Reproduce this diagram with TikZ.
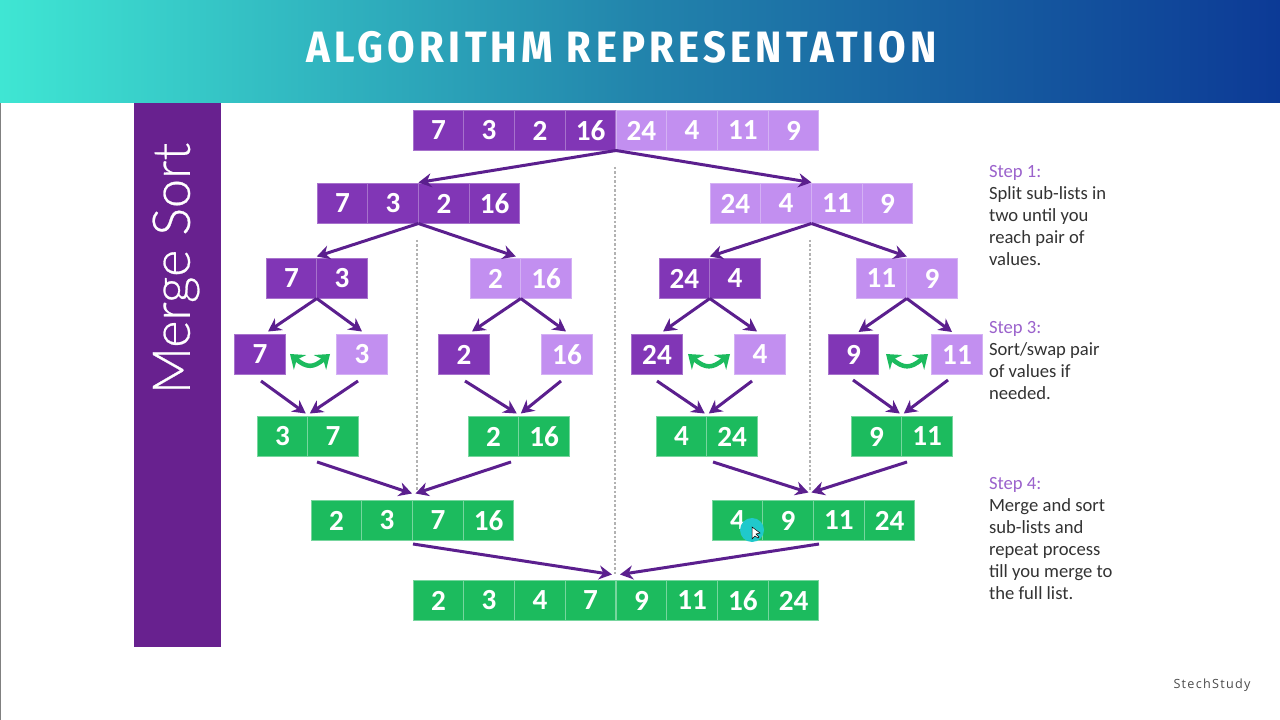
\documentclass[tikz,border=0pt]{standalone}
\usepackage{fontspec}
\usetikzlibrary{arrows.meta}
\setmainfont{Carlito}
\newfontfamily\titlefont[LetterSpace=10]{Fira Sans Condensed}
\newfontfamily\sidefont[FakeBold=0.5]{Lato Light}
\newfontfamily\markfont[LetterSpace=10]{Open Sans}
\definecolor{headleft}{HTML}{3FE6D3}
\definecolor{headmid}{HTML}{2284AC}
\definecolor{headright}{HTML}{0C3A96}
\definecolor{sidebar}{HTML}{68218F}
\definecolor{darkcell}{HTML}{8136B6}
\definecolor{lightcell}{HTML}{C28FF0}
\definecolor{greencell}{HTML}{1CBB5E}
\definecolor{flowline}{HTML}{5B1F8E}
\definecolor{steptitle}{HTML}{9B62CC}
\definecolor{pointer}{HTML}{20C9CC}
\tikzset{
	cell/.style={inner sep=0,outer sep=0,minimum width=0.5075cm,minimum height=0.4cm,yshift=-0.005cm,text=white,font=\fontsize{8.3}{10}\selectfont\bfseries},
	darkbox/.style={cell,fill=darkcell,draw=darkcell!70!white,line width=0.1mm},
	lightbox/.style={cell,fill=lightcell,draw=lightcell!70!white,line width=0.1mm},
	greenbox/.style={cell,fill=greencell,draw=greencell!60!white,line width=0.1mm},
	flow/.style={draw=flowline,line width=0.3mm,-{Stealth[length=1.3mm,width=1.4mm]}},
	swaparrow/.style={draw=greencell,line width=0.45mm,{Stealth[length=1.3mm,width=1.9mm]}-{Stealth[length=1.3mm,width=1.9mm]}},
	split/.style={draw=gray!60,line width=0.15mm,dash pattern=on 0.25mm off 0.2mm},
	steptext/.style={anchor=north west,inner sep=0,outer sep=0,align=left,text=black!80,font=\fontsize{5.3}{6.3}\selectfont},
}
\begin{document}
\begin{tikzpicture}
	\useasboundingbox (0,0) rectangle (12.8,-7.2);
	\fill[white] (0,0) rectangle (12.8,-7.2);
	\draw[black!50,line width=0.1mm] (0.005,-1.03) -- (0.005,-7.2);
	% header
	\shade[left color=headleft,right color=headright,middle color=headmid] (0,0) rectangle (12.8,-1.03);
	\node[text=white,inner sep=0,font=\titlefont\fontsize{12.5}{14}\selectfont\bfseries] (title) at (6.215,-0.47) {ALGORITHM REPRESENTATION};
	% side bar
	\fill[sidebar] (1.34,-1.03) rectangle (2.21,-6.47);
	\node[rotate=90,text=white,inner sep=0,font=\sidefont\fontsize{14.8}{16}\selectfont] (merge) at (1.76,-2.685) {Merge Sort};
	% dotted splits
	\draw[split] (6.15,-1.67) -- (6.15,-5.75);
	\draw[split] (4.17,-2.4) -- (4.17,-4.9);
	\draw[split] (8.10,-2.4) -- (8.10,-4.9);
	% first row
	\node[darkbox] (a1) at (4.384,-1.3) {7};
	\node[darkbox] (a2) at (4.891,-1.3) {3};
	\node[darkbox] (a3) at (5.399,-1.3) {2};
	\node[darkbox] (a4) at (5.906,-1.3) {16};
	\node[lightbox] (a5) at (6.414,-1.3) {24};
	\node[lightbox] (a6) at (6.921,-1.3) {4};
	\node[lightbox] (a7) at (7.429,-1.3) {11};
	\node[lightbox] (a8) at (7.936,-1.3) {9};
	% second row
	\node[darkbox] (b1) at (3.424,-2.03) {7};
	\node[darkbox] (b2) at (3.931,-2.03) {3};
	\node[darkbox] (b3) at (4.439,-2.03) {2};
	\node[darkbox] (b4) at (4.946,-2.03) {16};
	\node[lightbox] (b5) at (7.354,-2.03) {24};
	\node[lightbox] (b6) at (7.861,-2.03) {4};
	\node[lightbox] (b7) at (8.369,-2.03) {11};
	\node[lightbox] (b8) at (8.876,-2.03) {9};
	% pairs
	\node[darkbox] (c1) at (2.914,-2.78) {7};
	\node[darkbox] (c2) at (3.421,-2.78) {3};
	\node[lightbox] (c3) at (4.954,-2.78) {2};
	\node[lightbox] (c4) at (5.461,-2.78) {16};
	\node[darkbox] (c5) at (6.844,-2.78) {24};
	\node[darkbox] (c6) at (7.351,-2.78) {4};
	\node[lightbox] (c7) at (8.814,-2.78) {11};
	\node[lightbox] (c8) at (9.321,-2.78) {9};
	% single values
	\node[darkbox] (d1) at (2.6,-3.54) {7};
	\node[lightbox] (d2) at (3.62,-3.54) {3};
	\node[darkbox] (d3) at (4.64,-3.54) {2};
	\node[lightbox] (d4) at (5.67,-3.54) {16};
	\node[darkbox] (d5) at (6.57,-3.54) {24};
	\node[lightbox] (d6) at (7.6,-3.54) {4};
	\node[darkbox] (d7) at (8.535,-3.545) {9};
	\node[lightbox] (d8) at (9.57,-3.545) {11};
	% sorted pairs
	\node[greenbox] (e1) at (2.824,-4.36) {3};
	\node[greenbox] (e2) at (3.331,-4.36) {7};
	\node[greenbox] (e3) at (4.934,-4.36) {2};
	\node[greenbox] (e4) at (5.441,-4.36) {16};
	\node[greenbox] (e5) at (6.814,-4.36) {4};
	\node[greenbox] (e6) at (7.321,-4.36) {24};
	\node[greenbox] (e7) at (8.764,-4.36) {9};
	\node[greenbox] (e8) at (9.271,-4.36) {11};
	% merged halves
	\node[greenbox] (f1) at (3.364,-5.2) {2};
	\node[greenbox] (f2) at (3.871,-5.2) {3};
	\node[greenbox] (f3) at (4.379,-5.2) {7};
	\node[greenbox] (f4) at (4.886,-5.2) {16};
	\node[greenbox] (f5) at (7.374,-5.2) {4};
	\node[greenbox] (f6) at (7.881,-5.2) {9};
	\node[greenbox] (f7) at (8.389,-5.2) {11};
	\node[greenbox] (f8) at (8.896,-5.2) {24};
	% full list
	\node[greenbox] (g1) at (4.384,-6) {2};
	\node[greenbox] (g2) at (4.891,-6) {3};
	\node[greenbox] (g3) at (5.399,-6) {4};
	\node[greenbox] (g4) at (5.906,-6) {7};
	\node[greenbox] (g5) at (6.414,-6) {9};
	\node[greenbox] (g6) at (6.921,-6) {11};
	\node[greenbox] (g7) at (7.429,-6) {16};
	\node[greenbox] (g8) at (7.936,-6) {24};
	% split arrows
	\draw[flow] (a4.south east) -- ([yshift=0.01cm]b2.north east);
	\draw[flow] (a4.south east) -- ([yshift=0.01cm]b6.north east);
	\draw[flow] (b2.south east) -- ([yshift=0.02cm]c1.north east);
	\draw[flow] (b2.south east) -- ([xshift=-0.05cm,yshift=0.02cm]c3.north east);
	\draw[flow] (b6.south east) -- ([yshift=0.02cm]c5.north east);
	\draw[flow] (b6.south east) -- ([yshift=0.02cm]c7.north east);
	\draw[flow] (c1.south east) -- ([xshift=0.08cm,yshift=0.03cm]d1.north);
	\draw[flow] (c1.south east) -- ([xshift=0cm,yshift=0.03cm]d2.north);
	\draw[flow] (c3.south east) -- ([xshift=0.08cm,yshift=0.03cm]d3.north);
	\draw[flow] (c3.south east) -- ([xshift=-0.01cm,yshift=0.03cm]d4.north);
	\draw[flow] (c5.south east) -- ([xshift=0.06cm,yshift=0.03cm]d5.north);
	\draw[flow] (c5.south east) -- ([xshift=-0.03cm,yshift=0.03cm]d6.north);
	\draw[flow] (c7.south east) -- ([xshift=0.05cm,yshift=0.03cm]d7.north);
	\draw[flow] (c7.south east) -- ([xshift=-0.05cm,yshift=0.03cm]d8.north);
	% merge arrows
	\coordinate (m1) at (2.61,-3.81);
	\coordinate (m2) at (3.58,-3.81);
	\coordinate (m3) at (4.65,-3.81);
	\coordinate (m4) at (5.61,-3.81);
	\coordinate (m5) at (6.57,-3.81);
	\coordinate (m6) at (7.52,-3.81);
	\coordinate (m7) at (8.53,-3.8);
	\coordinate (m8) at (9.48,-3.8);
	\coordinate (n1) at (3.17,-4.62);
	\coordinate (n2) at (5.11,-4.62);
	\coordinate (n3) at (7.13,-4.62);
	\coordinate (n4) at (9.07,-4.62);
	\coordinate (o1) at (4.13,-5.44);
	\coordinate (o2) at (8.19,-5.44);
	\draw[flow] (m1) -- ([xshift=-0.02cm,yshift=0.03cm]e1.north east);
	\draw[flow] (m2) -- ([xshift=0.02cm,yshift=0.03cm]e1.north east);
	\draw[flow] (m3) -- ([xshift=-0.02cm,yshift=0.03cm]e3.north east);
	\draw[flow] (m4) -- ([xshift=0.02cm,yshift=0.03cm]e3.north east);
	\draw[flow] (m5) -- ([xshift=-0.02cm,yshift=0.03cm]e5.north east);
	\draw[flow] (m6) -- ([xshift=0.02cm,yshift=0.03cm]e5.north east);
	\draw[flow] (m7) -- ([xshift=-0.02cm,yshift=0.03cm]e7.north east);
	\draw[flow] (m8) -- ([xshift=0.02cm,yshift=0.03cm]e7.north east);
	\draw[flow] (n1) -- ([xshift=-0.005cm,yshift=0.07cm]f2.north east);
	\draw[flow] (n2) -- ([xshift=0.03cm,yshift=0.07cm]f2.north east);
	\draw[flow] (n3) -- ([xshift=-0.05cm,yshift=0.08cm]f6.north east);
	\draw[flow] (n4) -- ([xshift=-0.02cm,yshift=0.08cm]f6.north east);
	\draw[flow] (o1) -- ([xshift=-0.04cm,yshift=0.06cm]g4.north east);
	\draw[flow] (o2) -- ([xshift=0.04cm,yshift=0.06cm]g4.north east);
	% swaps
	\coordinate (s1) at (2.9,-3.54);
	\coordinate (s2) at (3.3,-3.54);
	\coordinate (s3) at (6.88,-3.54);
	\coordinate (s4) at (7.3,-3.54);
	\coordinate (s5) at (8.86,-3.54);
	\coordinate (s6) at (9.28,-3.54);
	\draw[swaparrow] (s1) to[out=-40,in=-140,looseness=1.4] (s2);
	\draw[swaparrow] (s3) to[out=-40,in=-140,looseness=1.4] (s4);
	\draw[swaparrow] (s5) to[out=-40,in=-140,looseness=1.4] (s6);
	% pointer
	\fill[pointer] (7.52,-5.3) circle (0.12);
	\fill[white,draw=black,line width=0.05mm] (7.52,-5.27) -- (7.52,-5.39) -- (7.55,-5.36) -- (7.58,-5.38) -- (7.59,-5.37) -- (7.56,-5.34) -- (7.6,-5.33) -- cycle;
	% step texts
	\node[steptext] (step1) at (9.89,-1.65) {\textcolor{steptitle}{Step 1:}\\Split sub-lists in\\two until you\\reach pair of\\values.};
	\node[steptext] (step3) at (9.89,-3.21) {\textcolor{steptitle}{Step 3:}\\Sort/swap pair\\of values if\\needed.};
	\node[steptext] (step4) at (9.89,-4.77) {\textcolor{steptitle}{Step 4:}\\Merge and sort\\sub-lists and\\repeat process\\till you merge to\\the full list.};
	\node[text=black!70,inner sep=0,font=\markfont\fontsize{3.6}{4}\selectfont] (mark) at (12.12,-6.855) {StechStudy};
\end{tikzpicture}
\end{document}
